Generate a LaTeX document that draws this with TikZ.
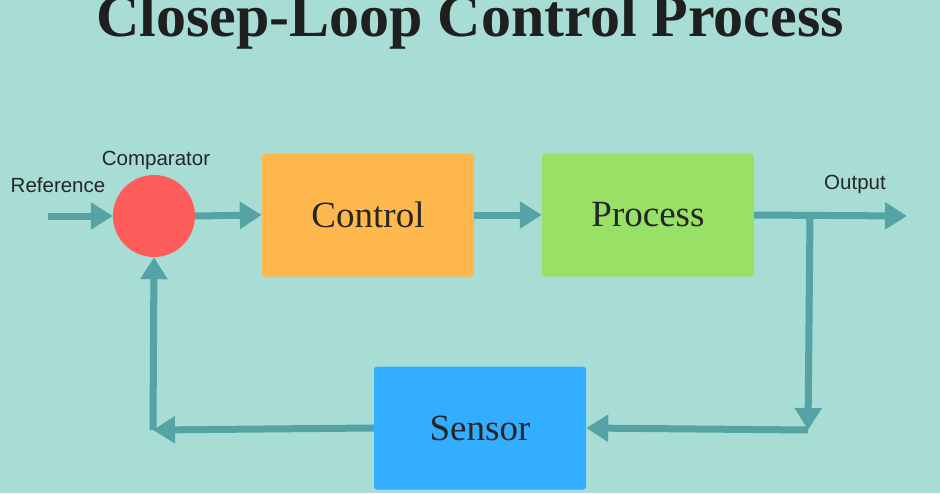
\documentclass[tikz,border=0pt]{standalone}
\usepackage{fontspec}
\setmainfont{Liberation Serif}
\setsansfont{Liberation Sans}
\usetikzlibrary{arrows.meta}
\definecolor{bg}{HTML}{A8DDD6}
\definecolor{arr}{HTML}{55A3A5}
\definecolor{cmp}{HTML}{FF5C5C}
\definecolor{ctl}{HTML}{FFB84D}
\definecolor{prc}{HTML}{99E066}
\definecolor{sns}{HTML}{33ADFF}
\tikzset{
 blk/.style={rounded corners=3pt,minimum width=212pt,minimum height=123pt,font=\fontsize{37}{39}\selectfont,text=black!85},
 flow/.style={draw=arr,line width=7pt,-{Triangle[length=22pt,width=26pt]}},
 lbl/.style={font=\sffamily\fontsize{20.5}{22}\selectfont,text=black!85}
}
\begin{document}
\begin{tikzpicture}[x=1pt,y=-1pt]
\fill[bg] (0,0) rectangle (940,493);
\useasboundingbox (0,0) rectangle (940,493);
\node[font=\bfseries\fontsize{60}{60}\selectfont,text=black!88,anchor=base] (title) at (470,36) {Closep-Loop Control Process};
\node[circle,fill=cmp,minimum size=82pt,inner sep=0] (c) at (154,216) {};
\node[blk,fill=ctl] (ctl) at (368,215) {Control};
\node[blk,fill=prc] (prc) at (648,215) {Process};
\node[blk,fill=sns] (sns) at (480,428) {Sensor};
\node[lbl] (lr) at (58,185) {Reference};
\node[lbl] (lc) at (156,160) {Comparator};
\node[lbl] (lo) at (855,184) {Output};
\coordinate (in) at (48,216);
\coordinate (out) at (907,216);
\coordinate (br) at (810,216);
\coordinate (bd) at (808,430);
\coordinate (bl) at (153,430);
\draw[flow] (in) -- (c.west);
\draw[flow] (c.east) -- (ctl.west);
\draw[flow] (ctl.east) -- (prc.west);
\draw[flow] (prc.east) -- (out);
\draw[flow] (br) -- (bd);
\draw[flow] (bd) -- (sns.east);
\draw[flow] (sns.west) -- (bl);
\draw[flow] (bl) -- (c.south);
\end{tikzpicture}
\end{document}
